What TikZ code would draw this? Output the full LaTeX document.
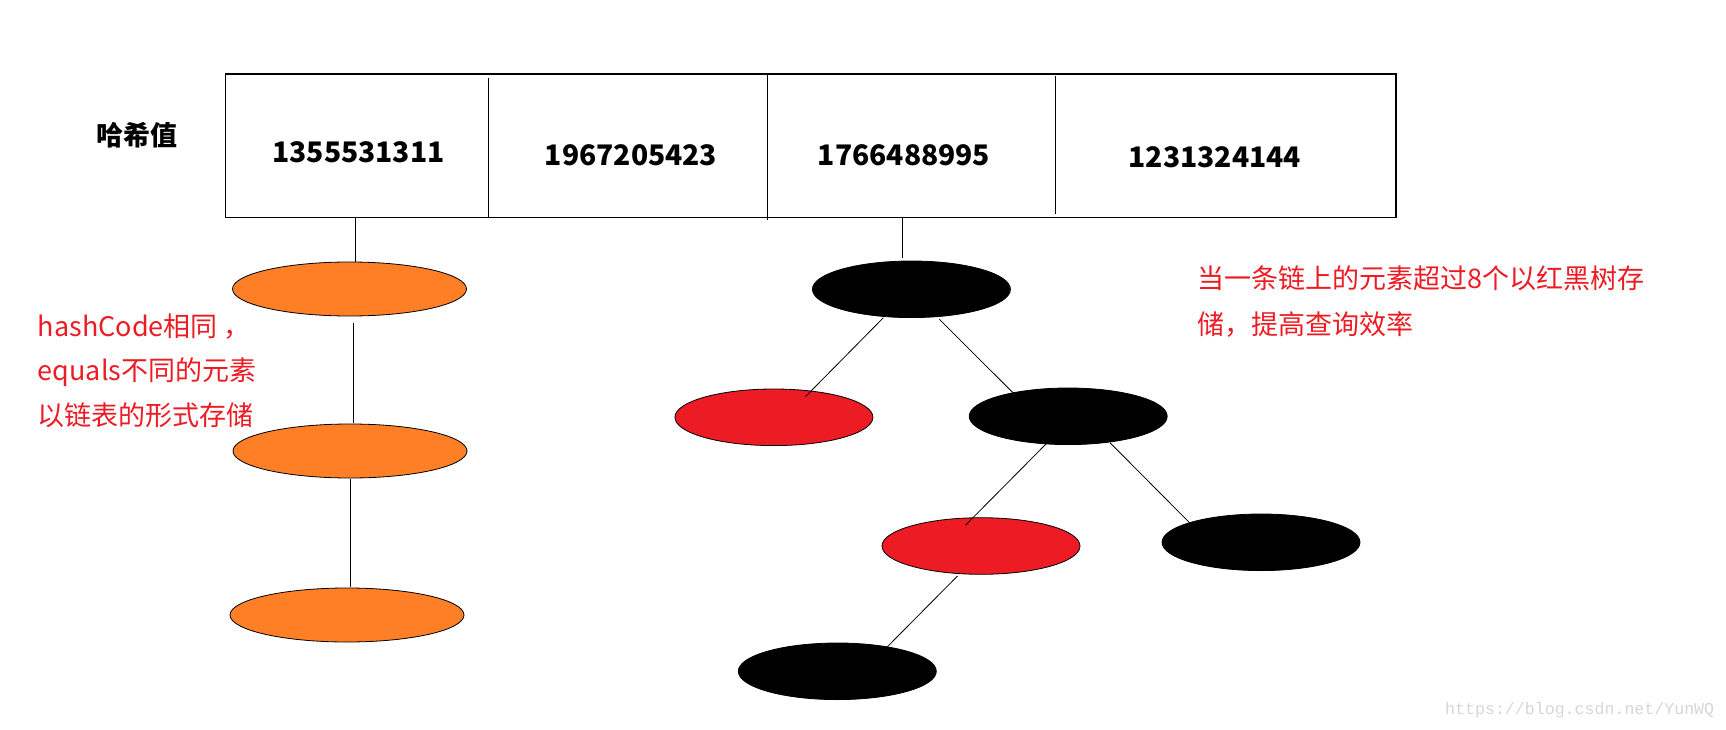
\documentclass[tikz,border=0pt]{standalone}
\usepackage{fontspec}
\setmainfont{Noto Sans CJK SC}
\newfontfamily\wmfont{Liberation Mono}
\usetikzlibrary{shapes.geometric,calc}
\definecolor{pred}{HTML}{ED1C24}
\definecolor{porange}{HTML}{FF7F27}
\definecolor{wmgray}{HTML}{D6D6D6}
\tikzset{
  num/.style={anchor=base,inner sep=0pt,font=\fontsize{28.3}{28.3}\selectfont\bfseries},
  redtext/.style={anchor=base west,inner sep=0pt,text=pred,font=\fontsize{27}{27}\selectfont},
  chainnode/.style={ellipse,draw=black,line width=0.8pt,fill=porange,minimum width=234pt,minimum height=54pt,inner sep=0pt},
  rbnode/.style={ellipse,line width=0.8pt,minimum width=198pt,minimum height=56.6pt,inner sep=0pt},
  blacknode/.style={rbnode,draw=black,fill=black},
  rednode/.style={rbnode,draw=black,fill=pred},
  link/.style={draw=black,line width=0.8pt},
}
\begin{document}
\begin{tikzpicture}[x=1pt,y=-1pt]
\useasboundingbox (0,0) rectangle (1726,730);
% table
\node[draw=black,line width=1.3pt,minimum width=1170.5pt,minimum height=143.7pt,inner sep=0pt,anchor=north west] (table) at (224.7,73.3) {};
\coordinate (d1t) at (488.3,78.3);
\coordinate (d1b) at (488.3,217);
\coordinate (d2t) at (767,75);
\coordinate (d2b) at (767,220);
\coordinate (d3t) at (1055.5,76);
\coordinate (d3b) at (1055.5,214.3);
\draw[link] (d1t) -- (d1b);
\draw[link] (d2t) -- (d2b);
\draw[link] (d3t) -- (d3b);
\node[anchor=base,inner sep=0pt,font=\fontsize{27}{27}\selectfont\bfseries] (label) at (137.4,145.7) {哈希值};
\node[num] (h1) at (358.5,162.7) {1355531311};
\node[num] (h2) at (631,165.7) {1967205423};
\node[num] (h3) at (904,165.7) {1766488995};
\node[num] (h4) at (1214.8,167.7) {1231324144};
% chain
\node[chainnode] (c1) at (349.5,289) {};
\node[chainnode] (c2) at (350,451) {};
\node[chainnode] (c3) at (347,615) {};
\draw[link] ($(table.south west)+(130.5,0)$) -- (c1.north -| 355.2,0);
\draw[link] ($(c1.south)+(3.8,7)$) -- ($(c2.north)+(3.3,-1)$);
\draw[link] ($(c2.south)+(0.3,1)$) -- ($(c3.north)+(3.3,-1)$);
% tree
\node[blacknode] (r) at (911.4,289.3) {};
\node[rednode] (rl) at (773.9,417.3) {};
\node[blacknode] (b2) at (1068.2,416.3) {};
\node[rednode] (r3) at (981,546) {};
\node[blacknode] (b3) at (1261,542.3) {};
\node[blacknode] (b4) at (837.3,671.3) {};
\draw[link] ($(table.south west)+(677.8,0)$) -- ($(r.north)+(-8.9,-2.7)$);
\draw[link] ($(r.center)+(-28,28.4)$) -- ($(rl.center)+(31.5,-20.6)$);
\draw[link] ($(r.center)+(28,30)$) -- ($(b2.center)+(-54.7,-23)$);
\draw[link] ($(b2.center)+(-22.2,27.7)$) -- ($(r3.center)+(-15.3,-21)$);
\draw[link] ($(b2.center)+(41.8,26.4)$) -- ($(b3.center)+(-71.5,-19.6)$);
\draw[link] ($(r3.center)+(-23.5,30)$) -- ($(b4.center)+(49.5,-24)$);
% notes
\node[redtext] (n1) at (37.7,336) {hashCode相同\hspace{6pt}，};
\node[redtext] (n2) at (37.7,380.5) {equals不同的元素};
\node[redtext] (n3) at (37.7,425) {以链表的形式存储};
\node[redtext] (n4) at (1197,288) {当一条链上的元素超过8个以红黑树存};
\node[redtext] (n5) at (1197,334) {储，提高查询效率};
\node[anchor=base west,inner sep=0pt,text=wmgray,font=\wmfont\fontsize{16.6}{16.6}\selectfont] (wm) at (1445,714) {https://blog.csdn.net/YunWQ};
\end{tikzpicture}
\end{document}
